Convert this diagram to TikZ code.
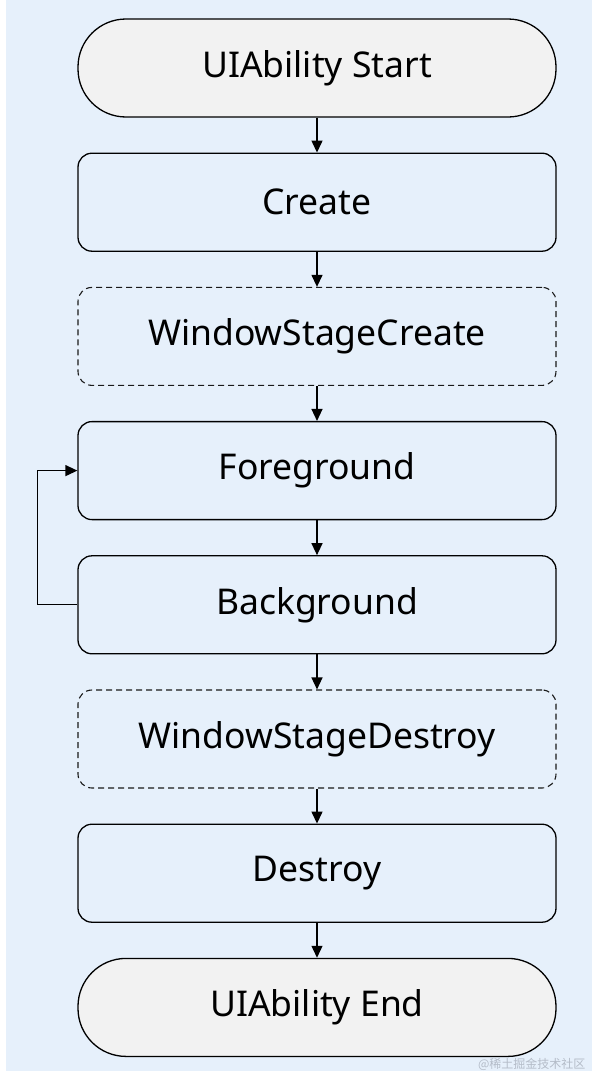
\documentclass[tikz,border=0pt]{standalone}
\usepackage{fontspec}
\setmainfont{Noto Sans}
\newfontfamily\cjkfont{Noto Sans CJK SC}
\usetikzlibrary{arrows.meta}

\definecolor{panelblue}{HTML}{E6F0FB}
\definecolor{termgrey}{HTML}{F2F2F2}
\definecolor{markgrey}{HTML}{B4BCC8}

\tikzset{%
        every stage/.style={
            rectangle,
            draw,
            line width=1.3pt,
            rounded corners=14pt,
            fill=panelblue,
            minimum width=478pt,
            minimum height=98pt,
            font=\fontsize{35.5}{42}\selectfont
        },
        stage terminal/.style={
            rounded corners=48pt,
            fill=termgrey
        },
        stage window/.style={
            line width=1.1pt,
            draw=black!90,
            dash pattern=on 6pt off 4pt
        },
    }

\begin{document}
\begin{tikzpicture}[x=1pt, y=1pt, >={Triangle[length=12pt,width=11pt]}]

        \useasboundingbox (0,0) rectangle (592,-1076);
        \fill[white] (0,0) rectangle (592,-1076);
        \fill[panelblue] (6,0) rectangle (592,-1071);

        \foreach \m/\l [count=\y from 0] in {terminal/UIAbility Start, plain/Create, window/WindowStageCreate, plain/Foreground, plain/Background, window/WindowStageDestroy, plain/Destroy, terminal/UIAbility End}
        \node [every stage/.try, stage \m/.try] (stage-\y) at (317,-68-134.2*\y) {\l};

        \foreach \i [count=\j from 1] in {0,...,6}
        \draw [->, line width=1.3pt] (stage-\i) -- (stage-\j);

        \draw [->, line width=1.3pt] (stage-4.west) -- ++(-40,0) |- (stage-3.west);

        \node [text=markgrey, font=\cjkfont\fontsize{12}{14}\selectfont, anchor=east] (mark) at (589,-1064) {@稀土掘金技术社区};
    \end{tikzpicture}
\end{document}
